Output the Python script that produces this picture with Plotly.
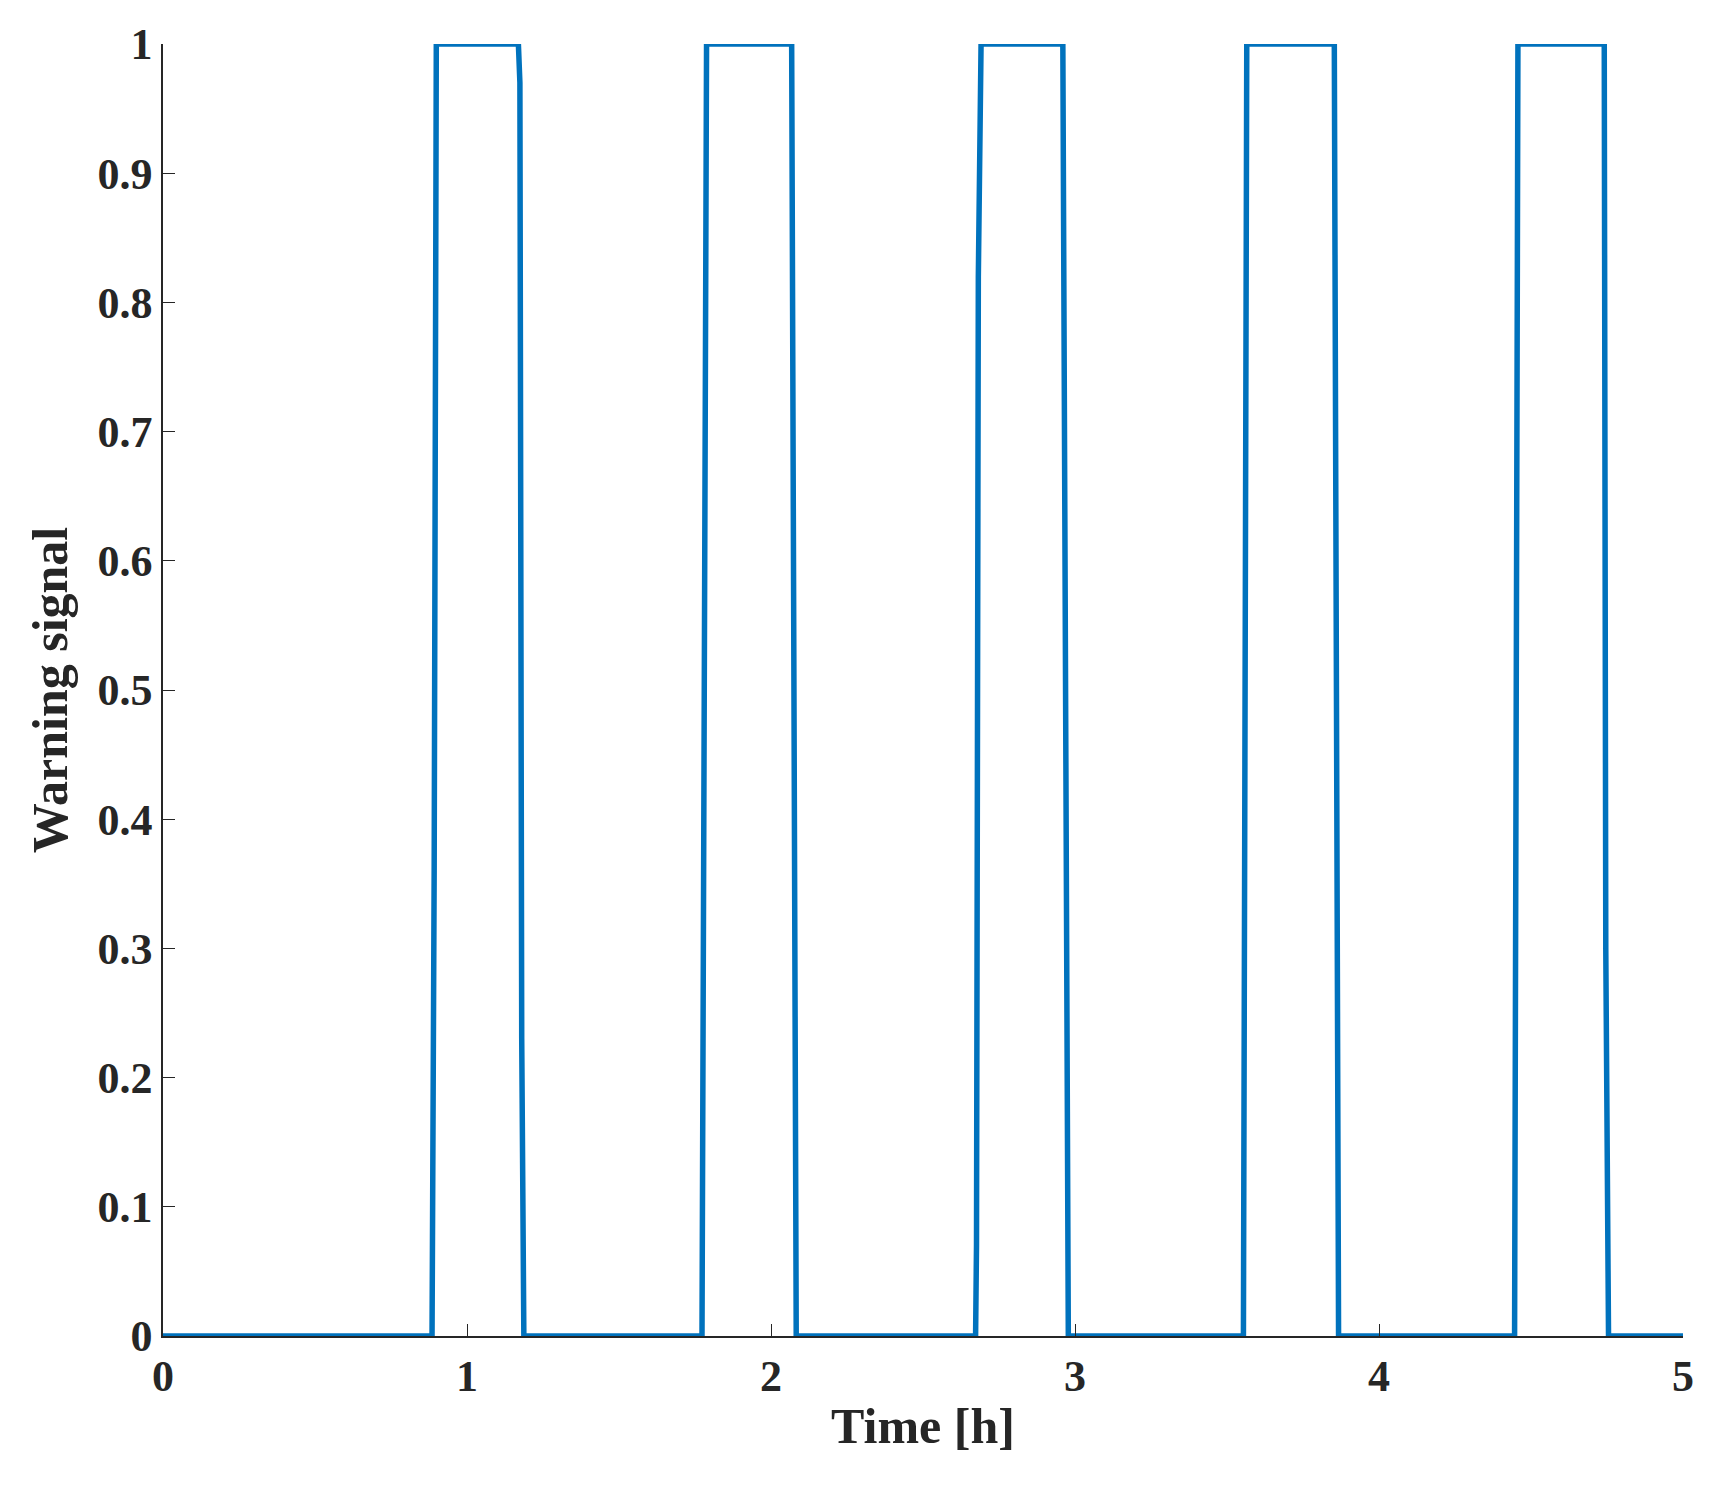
import plotly.graph_objects as go

# (time, value) points
time = [0, 0.885, 0.892, 0.899, 1.169, 1.174, 1.180, 1.187,
        1.773, 1.778, 1.788, 2.068, 2.075, 2.083,
        2.673, 2.676, 2.682, 2.691, 2.960, 2.967, 2.978,
        3.554, 3.558, 3.565, 3.853, 3.858, 3.867,
        4.446, 4.450, 4.457, 4.741, 4.746, 4.755, 5.0]
signal = [0, 0, 0.36, 1, 1, 0.97, 0.23, 0,
          0, 0.34, 1, 1, 0.5, 0,
          0, 0.07, 0.82, 1, 1, 0.52, 0,
          0, 0.55, 1, 1, 0.53, 0,
          0, 0.54, 1, 1, 0.3, 0, 0]
xticks = [0, 1, 2, 3, 4, 5]
yticks = [0, 0.1, 0.2, 0.3, 0.4, 0.5, 0.6, 0.7, 0.8, 0.9, 1]

fig = go.Figure(go.Scatter(x=time, y=signal, mode="lines",
                           line=dict(color="#0072BD", width=5.5)))
fig.update_layout(
    width=1715, height=1500, paper_bgcolor="white", plot_bgcolor="white",
    margin=dict(l=155, r=40, t=34, b=172), showlegend=False,
    font=dict(family="Liberation Serif", size=44, color="#262626"),
)
axis_common = dict(showgrid=False, zeroline=False, showline=True, linecolor="#262626",
                   linewidth=1.5, ticks="inside", ticklen=12, tickcolor="#262626",
                   tickfont=dict(family="Liberation Serif", size=44, color="#262626"))
fig.update_xaxes(range=[0, 5], tickvals=xticks, ticktext=[f"<b>{v}</b>" for v in xticks],
                 title=dict(text="<b>Time [h]</b>", standoff=8,
                            font=dict(family="Liberation Serif", size=50, color="#262626")),
                 **axis_common)
fig.update_yaxes(range=[0, 1], tickvals=yticks,
                 ticktext=[f"<b>{v:g}</b>" for v in yticks],
                 title=dict(text="<b>Warning signal</b>", standoff=14,
                            font=dict(family="Liberation Serif", size=50, color="#262626")),
                 **axis_common)
fig.write_html("out.html")
